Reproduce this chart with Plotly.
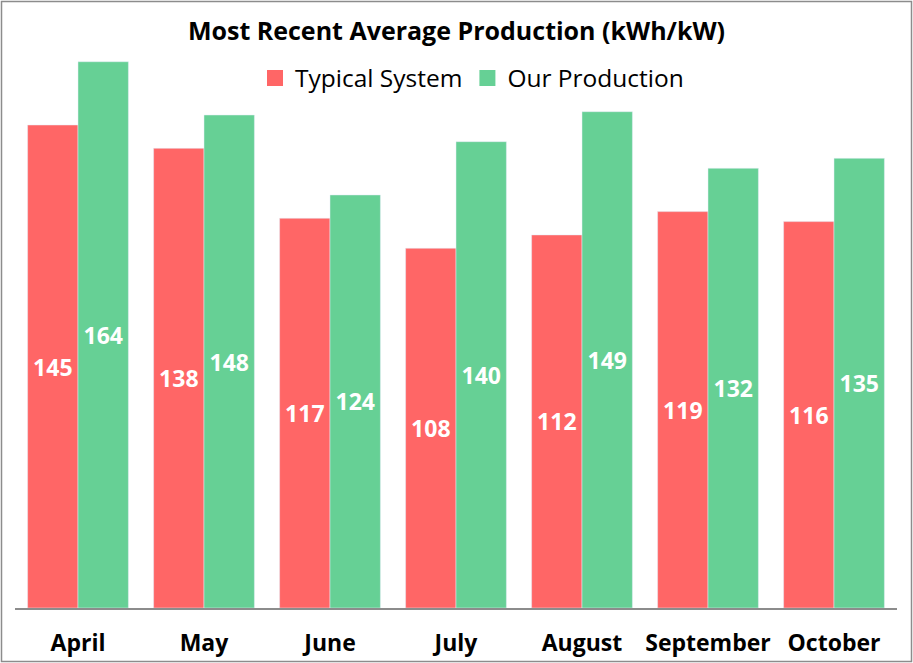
import plotly.graph_objects as go

months = ["April", "May", "June", "July", "August", "September", "October"]
typical = [145, 138, 117, 108, 112, 119, 116]
ours = [164, 148, 124, 140, 149, 132, 135]
series_names = ["Typical System", "Our Production"]

FONT = "Open Sans, Carlito, Calibri, sans-serif"
RED = "#FF6666"
GREEN = "#66D095"

fig = go.Figure()
for name, vals, col in [(series_names[0], typical, RED), (series_names[1], ours, GREEN)]:
    fig.add_trace(go.Bar(name=name, x=months, y=vals, marker_color=col, showlegend=False,
                         text=[f"<b>{v}</b>" for v in vals], textposition="inside",
                         insidetextanchor="middle", textangle=0,
                         textfont=dict(color="white", size=23, family=FONT)))
for name, col in [(series_names[0], RED), (series_names[1], GREEN)]:
    fig.add_trace(go.Scatter(name=name, x=[None], y=[None], mode="markers",
                             marker=dict(symbol="square", size=17, color=col)))

L, R, T, B = 15, 16, 40, 55
W, H = 913, 663
pw = W - L - R
ph = H - T - B

fig.update_layout(
    width=W, height=H,
    margin=dict(l=L, r=R, t=T, b=B, autoexpand=False),
    paper_bgcolor="white", plot_bgcolor="white",
    barmode="group", bargap=0.2, bargroupgap=0,
    font=dict(family=FONT, color="black"),
    title=dict(text="<b>Most Recent Average Production (kWh/kW)</b>",
               x=0.5, xanchor="center", y=1 - 31 / H, yanchor="middle",
               font=dict(size=25, family=FONT, color="black")),
    legend=dict(orientation="h", x=(472 - L) / pw, xanchor="center",
                y=(608 - 78) / ph, yanchor="middle",
                font=dict(size=24.5, family=FONT, color="black"),
                bgcolor="rgba(0,0,0,0)", itemwidth=30, itemsizing="trace"),
    xaxis=dict(showgrid=False, showline=True, linecolor="#8c8c8c", linewidth=1.5,
               ticks="", automargin=False,
               tickfont=dict(size=23, family=FONT, color="black"),
               tickprefix="<b>", ticksuffix="</b>", ticklabelstandoff=14),
    yaxis=dict(range=[0, ph / 3.331], showgrid=False, showticklabels=False,
               zeroline=False, showline=False, automargin=False),
)

fig.add_shape(type="rect", xref="paper", yref="paper",
              x0=(1.5 - L) / pw, x1=(911.5 - L) / pw,
              y0=(608 - 661.5) / ph, y1=(608 - 1.5) / ph,
              line=dict(color="#8c8c8c", width=1.5), fillcolor="rgba(0,0,0,0)", layer="above")

fig.write_html("out.html")
